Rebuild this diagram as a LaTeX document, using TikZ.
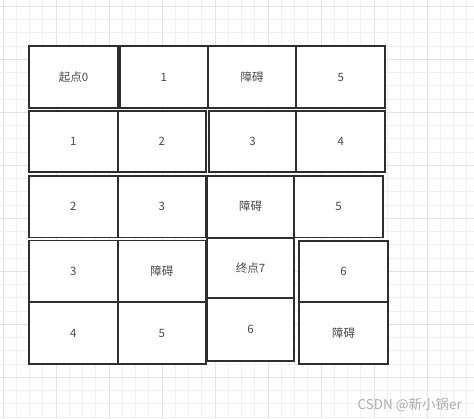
\documentclass[tikz,border=0pt]{standalone}
\usepackage{fontspec}
\setmainfont{Noto Sans CJK SC}
\pgfdeclarelayer{gridlayer}
\pgfdeclarelayer{filllayer}
\pgfsetlayers{gridlayer,filllayer,main}
\newcommand\gridcell[6]{%
  \begin{pgfonlayer}{filllayer}\fill[white] (#2,#3) rectangle (#4,#5);\end{pgfonlayer}%
  \node[cell, minimum width={#4-#2}, minimum height={#5-#3}] (#1) at ({(#2+#4)/2},{(#3+#5)/2}) {#6};}
\begin{document}
\begin{tikzpicture}[x=1pt,y=-1pt,
  cell/.style={draw=black!82, line width=1.9pt, inner sep=0pt, outer sep=0pt,
    font=\fontsize{11.5}{12}\selectfont, text=black!72},
  minorline/.style={draw=black!6, line width=0.9pt},
  majorline/.style={draw=black!11, line width=0.9pt}]
\begin{pgfonlayer}{gridlayer}
\fill[white] (0,0) rectangle (474,418);
% background grid
\foreach \k in {0,...,35}{
  \pgfmathsetmacro\xx{2.7+13.27*\k}
  \pgfmathtruncatemacro\m{mod(\k,4)}
  \ifnum\m=0 \draw[majorline] (\xx,0) -- (\xx,418); \else \draw[minorline] (\xx,0) -- (\xx,418); \fi
}
\foreach \k in {0,...,31}{
  \pgfmathsetmacro\yy{6+13.27*\k}
  \pgfmathtruncatemacro\m{mod(\k,4)}
  \ifnum\m=0 \draw[majorline] (0,\yy) -- (474,\yy); \else \draw[minorline] (0,\yy) -- (474,\yy); \fi
}
\end{pgfonlayer}
\useasboundingbox (0,0) rectangle (474,418);
% row 1
\gridcell{a1}{28.5}{46}{118}{107.5}{起点0}
\gridcell{a2}{119.5}{46}{208}{107.5}{1}
\gridcell{a3}{208}{46}{296.5}{107.5}{障碍}
\gridcell{a4}{296.5}{46}{385.5}{107.5}{5}
% row 2
\gridcell{b1}{28.5}{110.5}{117.5}{172}{1}
\gridcell{b2}{117.5}{110.5}{206}{172}{2}
\gridcell{b3}{208.5}{110.5}{296.5}{172}{3}
\gridcell{b4}{296.5}{110.5}{385.5}{172}{4}
% row 3
\gridcell{c1}{28.5}{175.5}{117.5}{237.5}{2}
\gridcell{c2}{117.5}{175.5}{206}{237.5}{3}
\gridcell{c3}{207}{175.5}{294.5}{237.5}{障碍}
\gridcell{c4}{294.5}{175.5}{383}{237.5}{5}
% row 4
\gridcell{d1}{28.5}{240.5}{117.5}{302.5}{3}
\gridcell{d2}{117.5}{240.5}{206}{302.5}{障碍}
\gridcell{d3}{206.5}{238}{294.5}{298.5}{终点7}
\gridcell{d4}{299.5}{241}{388}{302.5}{6}
% row 5
\gridcell{e1}{28.5}{302.5}{117.5}{364}{4}
\gridcell{e2}{117.5}{302.5}{206}{364}{5}
\gridcell{e3}{206.5}{298.5}{294.5}{361}{6}
\gridcell{e4}{299.5}{302.5}{388}{364.5}{障碍}
% watermark
\node[text=black!32, font=\fontsize{13.5}{14}\selectfont, inner sep=0pt] (wm) at (410,405) {CSDN @新小锅er};
\end{tikzpicture}
\end{document}
